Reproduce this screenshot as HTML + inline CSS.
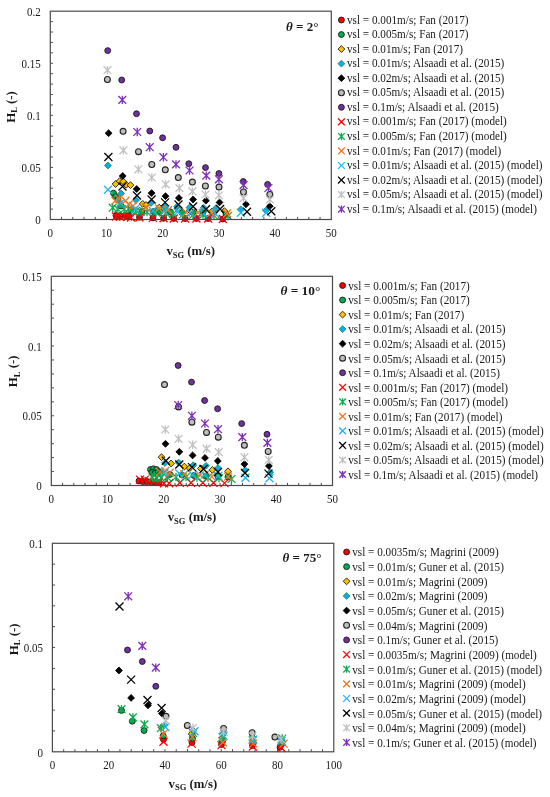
<!DOCTYPE html>
<html><head><meta charset="utf-8"><style>
html,body{margin:0;padding:0;background:#fff;}
body{width:550px;height:797px;overflow:hidden;}
svg{display:block;will-change:transform;}
text{font-family:"Liberation Serif", serif;fill:#1a1a1a;}
.t{font-size:11px;}
.lg{font-size:11.2px;}
.ti{font-size:13px;font-weight:bold;}
.at{font-size:12.8px;font-weight:bold;}
.sub{font-size:8.5px;}
</style></head><body>
<svg width="550" height="797" viewBox="0 0 550 797">
<rect width="550" height="797" fill="#fff"/>
<circle cx="116" cy="215.5" r="2.95" fill="#FF0000" stroke="#1a1a1a" stroke-width="0.9"/>
<circle cx="120.5" cy="215.8" r="2.95" fill="#FF0000" stroke="#1a1a1a" stroke-width="0.9"/>
<circle cx="125" cy="215.5" r="2.95" fill="#FF0000" stroke="#1a1a1a" stroke-width="0.9"/>
<circle cx="128.7" cy="216" r="2.95" fill="#FF0000" stroke="#1a1a1a" stroke-width="0.9"/>
<circle cx="139.5" cy="217.3" r="2.95" fill="#FF0000" stroke="#1a1a1a" stroke-width="0.9"/>
<circle cx="152.9" cy="217.9" r="2.95" fill="#FF0000" stroke="#1a1a1a" stroke-width="0.9"/>
<circle cx="163.6" cy="218.3" r="2.95" fill="#FF0000" stroke="#1a1a1a" stroke-width="0.9"/>
<circle cx="173.8" cy="218.5" r="2.95" fill="#FF0000" stroke="#1a1a1a" stroke-width="0.9"/>
<circle cx="185.1" cy="218.5" r="2.95" fill="#FF0000" stroke="#1a1a1a" stroke-width="0.9"/>
<circle cx="196.4" cy="218.5" r="2.95" fill="#FF0000" stroke="#1a1a1a" stroke-width="0.9"/>
<circle cx="208.1" cy="218.5" r="2.95" fill="#FF0000" stroke="#1a1a1a" stroke-width="0.9"/>
<circle cx="222.8" cy="219" r="2.95" fill="#FF0000" stroke="#1a1a1a" stroke-width="0.9"/>
<circle cx="113.5" cy="193.1" r="2.95" fill="#00B050" stroke="#1a1a1a" stroke-width="0.9"/>
<circle cx="115.6" cy="196.7" r="2.95" fill="#00B050" stroke="#1a1a1a" stroke-width="0.9"/>
<circle cx="118" cy="199.5" r="2.95" fill="#00B050" stroke="#1a1a1a" stroke-width="0.9"/>
<circle cx="121" cy="206" r="2.95" fill="#00B050" stroke="#1a1a1a" stroke-width="0.9"/>
<circle cx="131" cy="210" r="2.95" fill="#00B050" stroke="#1a1a1a" stroke-width="0.9"/>
<circle cx="141.8" cy="211.6" r="2.95" fill="#00B050" stroke="#1a1a1a" stroke-width="0.9"/>
<circle cx="153.6" cy="211.6" r="2.95" fill="#00B050" stroke="#1a1a1a" stroke-width="0.9"/>
<circle cx="160" cy="211.6" r="2.95" fill="#00B050" stroke="#1a1a1a" stroke-width="0.9"/>
<circle cx="170.2" cy="211.8" r="2.95" fill="#00B050" stroke="#1a1a1a" stroke-width="0.9"/>
<circle cx="181.8" cy="212.5" r="2.95" fill="#00B050" stroke="#1a1a1a" stroke-width="0.9"/>
<circle cx="193" cy="212.5" r="2.95" fill="#00B050" stroke="#1a1a1a" stroke-width="0.9"/>
<circle cx="203" cy="212" r="2.95" fill="#00B050" stroke="#1a1a1a" stroke-width="0.9"/>
<circle cx="213" cy="213" r="2.95" fill="#00B050" stroke="#1a1a1a" stroke-width="0.9"/>
<circle cx="226" cy="214" r="2.95" fill="#00B050" stroke="#1a1a1a" stroke-width="0.9"/>
<path d="M115.6 180.6L119 184L115.6 187.4L112.2 184Z" fill="#FFC000" stroke="#1a1a1a" stroke-width="0.9"/>
<path d="M119.6 177.7L123 181.1L119.6 184.5L116.2 181.1Z" fill="#FFC000" stroke="#1a1a1a" stroke-width="0.9"/>
<path d="M123.3 178.1L126.7 181.5L123.3 184.9L119.9 181.5Z" fill="#FFC000" stroke="#1a1a1a" stroke-width="0.9"/>
<path d="M126.2 181.3L129.6 184.7L126.2 188.1L122.8 184.7Z" fill="#FFC000" stroke="#1a1a1a" stroke-width="0.9"/>
<path d="M130.5 181.7L133.9 185.1L130.5 188.5L127.1 185.1Z" fill="#FFC000" stroke="#1a1a1a" stroke-width="0.9"/>
<path d="M142.7 200.5L146.1 203.9L142.7 207.3L139.3 203.9Z" fill="#FFC000" stroke="#1a1a1a" stroke-width="0.9"/>
<path d="M146 201.6L149.4 205L146 208.4L142.6 205Z" fill="#FFC000" stroke="#1a1a1a" stroke-width="0.9"/>
<path d="M159.2 204.3L162.6 207.7L159.2 211.1L155.8 207.7Z" fill="#FFC000" stroke="#1a1a1a" stroke-width="0.9"/>
<path d="M164.7 204.8L168.1 208.2L164.7 211.6L161.3 208.2Z" fill="#FFC000" stroke="#1a1a1a" stroke-width="0.9"/>
<path d="M178.2 205.9L181.6 209.3L178.2 212.7L174.8 209.3Z" fill="#FFC000" stroke="#1a1a1a" stroke-width="0.9"/>
<path d="M190 207.1L193.4 210.5L190 213.9L186.6 210.5Z" fill="#FFC000" stroke="#1a1a1a" stroke-width="0.9"/>
<path d="M212 208.1L215.4 211.5L212 214.9L208.6 211.5Z" fill="#FFC000" stroke="#1a1a1a" stroke-width="0.9"/>
<path d="M224.4 207.7L227.8 211.1L224.4 214.5L221 211.1Z" fill="#FFC000" stroke="#1a1a1a" stroke-width="0.9"/>
<path d="M107.9 162.1L111.3 165.5L107.9 168.9L104.5 165.5Z" fill="#00B0F0" stroke="#2a8a4a" stroke-width="0.9"/>
<path d="M121.1 190.1L124.5 193.5L121.1 196.9L117.7 193.5Z" fill="#00B0F0" stroke="#2a8a4a" stroke-width="0.9"/>
<path d="M136 196.7L139.4 200.1L136 203.5L132.6 200.1Z" fill="#00B0F0" stroke="#2a8a4a" stroke-width="0.9"/>
<path d="M151 199.6L154.4 203L151 206.4L147.6 203Z" fill="#00B0F0" stroke="#2a8a4a" stroke-width="0.9"/>
<path d="M164.7 203L168.1 206.4L164.7 209.8L161.3 206.4Z" fill="#00B0F0" stroke="#2a8a4a" stroke-width="0.9"/>
<path d="M177.1 203L180.5 206.4L177.1 209.8L173.7 206.4Z" fill="#00B0F0" stroke="#2a8a4a" stroke-width="0.9"/>
<path d="M189.5 204.1L192.9 207.5L189.5 210.9L186.1 207.5Z" fill="#00B0F0" stroke="#2a8a4a" stroke-width="0.9"/>
<path d="M203.7 204.4L207.1 207.8L203.7 211.2L200.3 207.8Z" fill="#00B0F0" stroke="#2a8a4a" stroke-width="0.9"/>
<path d="M215.7 205L219.1 208.4L215.7 211.8L212.3 208.4Z" fill="#00B0F0" stroke="#2a8a4a" stroke-width="0.9"/>
<path d="M240.8 206L244.2 209.4L240.8 212.8L237.4 209.4Z" fill="#00B0F0" stroke="#2a8a4a" stroke-width="0.9"/>
<path d="M266 207.1L269.4 210.5L266 213.9L262.6 210.5Z" fill="#00B0F0" stroke="#2a8a4a" stroke-width="0.9"/>
<path d="M108.6 129.8L112 133.2L108.6 136.6L105.2 133.2Z" fill="#000000" stroke="#000" stroke-width="0.9"/>
<path d="M122.7 172.6L126.1 176L122.7 179.4L119.3 176Z" fill="#000000" stroke="#000" stroke-width="0.9"/>
<path d="M136.7 185.6L140.1 189L136.7 192.4L133.3 189Z" fill="#000000" stroke="#000" stroke-width="0.9"/>
<path d="M151.6 189.7L155 193.1L151.6 196.5L148.2 193.1Z" fill="#000000" stroke="#000" stroke-width="0.9"/>
<path d="M165.5 192.8L168.9 196.2L165.5 199.6L162.1 196.2Z" fill="#000000" stroke="#000" stroke-width="0.9"/>
<path d="M178.9 194.6L182.3 198L178.9 201.4L175.5 198Z" fill="#000000" stroke="#000" stroke-width="0.9"/>
<path d="M193.1 196.1L196.5 199.5L193.1 202.9L189.7 199.5Z" fill="#000000" stroke="#000" stroke-width="0.9"/>
<path d="M205.9 197.3L209.3 200.7L205.9 204.1L202.5 200.7Z" fill="#000000" stroke="#000" stroke-width="0.9"/>
<path d="M219.5 199L222.9 202.4L219.5 205.8L216.1 202.4Z" fill="#000000" stroke="#000" stroke-width="0.9"/>
<path d="M246 200.9L249.4 204.3L246 207.7L242.6 204.3Z" fill="#000000" stroke="#000" stroke-width="0.9"/>
<path d="M269.8 202.8L273.2 206.2L269.8 209.6L266.4 206.2Z" fill="#000000" stroke="#000" stroke-width="0.9"/>
<circle cx="107.4" cy="79.5" r="2.95" fill="#BFBFBF" stroke="#222" stroke-width="1.1"/>
<circle cx="123.1" cy="131.3" r="2.95" fill="#BFBFBF" stroke="#222" stroke-width="1.1"/>
<circle cx="138.5" cy="151.7" r="2.95" fill="#BFBFBF" stroke="#222" stroke-width="1.1"/>
<circle cx="151.8" cy="164.5" r="2.95" fill="#BFBFBF" stroke="#222" stroke-width="1.1"/>
<circle cx="165.3" cy="169.8" r="2.95" fill="#BFBFBF" stroke="#222" stroke-width="1.1"/>
<circle cx="178.3" cy="177.6" r="2.95" fill="#BFBFBF" stroke="#222" stroke-width="1.1"/>
<circle cx="192.4" cy="182.1" r="2.95" fill="#BFBFBF" stroke="#222" stroke-width="1.1"/>
<circle cx="205.4" cy="186" r="2.95" fill="#BFBFBF" stroke="#222" stroke-width="1.1"/>
<circle cx="219" cy="187.1" r="2.95" fill="#BFBFBF" stroke="#222" stroke-width="1.1"/>
<circle cx="243.5" cy="192" r="2.95" fill="#BFBFBF" stroke="#222" stroke-width="1.1"/>
<circle cx="269.8" cy="194.5" r="2.95" fill="#BFBFBF" stroke="#222" stroke-width="1.1"/>
<circle cx="107.7" cy="50.6" r="2.95" fill="#7030A0" stroke="#1a1a1a" stroke-width="0.9"/>
<circle cx="121.7" cy="80" r="2.95" fill="#7030A0" stroke="#1a1a1a" stroke-width="0.9"/>
<circle cx="136.5" cy="113.7" r="2.95" fill="#7030A0" stroke="#1a1a1a" stroke-width="0.9"/>
<circle cx="149.8" cy="131" r="2.95" fill="#7030A0" stroke="#1a1a1a" stroke-width="0.9"/>
<circle cx="162.6" cy="137.8" r="2.95" fill="#7030A0" stroke="#1a1a1a" stroke-width="0.9"/>
<circle cx="176" cy="147.3" r="2.95" fill="#7030A0" stroke="#1a1a1a" stroke-width="0.9"/>
<circle cx="188.8" cy="163.7" r="2.95" fill="#7030A0" stroke="#1a1a1a" stroke-width="0.9"/>
<circle cx="205.5" cy="167.6" r="2.95" fill="#7030A0" stroke="#1a1a1a" stroke-width="0.9"/>
<circle cx="218.9" cy="173.5" r="2.95" fill="#7030A0" stroke="#1a1a1a" stroke-width="0.9"/>
<circle cx="243.3" cy="181.5" r="2.95" fill="#7030A0" stroke="#1a1a1a" stroke-width="0.9"/>
<circle cx="267.6" cy="184.4" r="2.95" fill="#7030A0" stroke="#1a1a1a" stroke-width="0.9"/>
<path d="M112 212.5L120 220.5M120 212.5L112 220.5" stroke="#FF0000" stroke-width="1.25" fill="none"/>
<path d="M116 212.8L124 220.8M124 212.8L116 220.8" stroke="#FF0000" stroke-width="1.25" fill="none"/>
<path d="M120.2 212L128.2 220M128.2 212L120.2 220" stroke="#FF0000" stroke-width="1.25" fill="none"/>
<path d="M124 212.5L132 220.5M132 212.5L124 220.5" stroke="#FF0000" stroke-width="1.25" fill="none"/>
<path d="M127 213.5L135 221.5M135 213.5L127 221.5" stroke="#FF0000" stroke-width="1.25" fill="none"/>
<path d="M135.5 213.5L143.5 221.5M143.5 213.5L135.5 221.5" stroke="#FF0000" stroke-width="1.25" fill="none"/>
<path d="M148.9 213.9L156.9 221.9M156.9 213.9L148.9 221.9" stroke="#FF0000" stroke-width="1.25" fill="none"/>
<path d="M159.6 214.3L167.6 222.3M167.6 214.3L159.6 222.3" stroke="#FF0000" stroke-width="1.25" fill="none"/>
<path d="M169.8 214.5L177.8 222.5M177.8 214.5L169.8 222.5" stroke="#FF0000" stroke-width="1.25" fill="none"/>
<path d="M181.1 214.5L189.1 222.5M189.1 214.5L181.1 222.5" stroke="#FF0000" stroke-width="1.25" fill="none"/>
<path d="M192.4 214.5L200.4 222.5M200.4 214.5L192.4 222.5" stroke="#FF0000" stroke-width="1.25" fill="none"/>
<path d="M204.1 214.5L212.1 222.5M212.1 214.5L204.1 222.5" stroke="#FF0000" stroke-width="1.25" fill="none"/>
<path d="M218.8 215L226.8 223M226.8 215L218.8 223" stroke="#FF0000" stroke-width="1.25" fill="none"/>
<path d="M108.8 203.8L116.6 211.6M116.6 203.8L108.8 211.6M112.7 203.5L112.7 211.9" stroke="#0BAA4C" stroke-width="1.3" fill="none"/>
<path d="M113.9 205.1L121.7 212.9M121.7 205.1L113.9 212.9M117.8 204.8L117.8 213.2" stroke="#0BAA4C" stroke-width="1.3" fill="none"/>
<path d="M120.3 205.1L128.1 212.9M128.1 205.1L120.3 212.9M124.2 204.8L124.2 213.2" stroke="#0BAA4C" stroke-width="1.3" fill="none"/>
<path d="M124.7 205.1L132.5 212.9M132.5 205.1L124.7 212.9M128.6 204.8L128.6 213.2" stroke="#0BAA4C" stroke-width="1.3" fill="none"/>
<path d="M132.1 207.1L139.9 214.9M139.9 207.1L132.1 214.9M136 206.8L136 215.2" stroke="#0BAA4C" stroke-width="1.3" fill="none"/>
<path d="M137.1 207.6L144.9 215.4M144.9 207.6L137.1 215.4M141 207.3L141 215.7" stroke="#0BAA4C" stroke-width="1.3" fill="none"/>
<path d="M143.1 208.1L150.9 215.9M150.9 208.1L143.1 215.9M147 207.8L147 216.2" stroke="#0BAA4C" stroke-width="1.3" fill="none"/>
<path d="M152.1 208.6L159.9 216.4M159.9 208.6L152.1 216.4M156 208.3L156 216.7" stroke="#0BAA4C" stroke-width="1.3" fill="none"/>
<path d="M162.1 209.1L169.9 216.9M169.9 209.1L162.1 216.9M166 208.8L166 217.2" stroke="#0BAA4C" stroke-width="1.3" fill="none"/>
<path d="M169.1 210.1L176.9 217.9M176.9 210.1L169.1 217.9M173 209.8L173 218.2" stroke="#0BAA4C" stroke-width="1.3" fill="none"/>
<path d="M179.1 210.6L186.9 218.4M186.9 210.6L179.1 218.4M183 210.3L183 218.7" stroke="#0BAA4C" stroke-width="1.3" fill="none"/>
<path d="M189.1 211.1L196.9 218.9M196.9 211.1L189.1 218.9M193 210.8L193 219.2" stroke="#0BAA4C" stroke-width="1.3" fill="none"/>
<path d="M199.1 211.1L206.9 218.9M206.9 211.1L199.1 218.9M203 210.8L203 219.2" stroke="#0BAA4C" stroke-width="1.3" fill="none"/>
<path d="M210.1 211.6L217.9 219.4M217.9 211.6L210.1 219.4M214 211.3L214 219.7" stroke="#0BAA4C" stroke-width="1.3" fill="none"/>
<path d="M224.1 212.1L231.9 219.9M231.9 212.1L224.1 219.9M228 211.8L228 220.2" stroke="#0BAA4C" stroke-width="1.3" fill="none"/>
<path d="M111.3 196.7L119.3 204.7M119.3 196.7L111.3 204.7" stroke="#F7731F" stroke-width="1.25" fill="none"/>
<path d="M115.1 194.8L123.1 202.8M123.1 194.8L115.1 202.8" stroke="#F7731F" stroke-width="1.25" fill="none"/>
<path d="M121.5 196.7L129.5 204.7M129.5 196.7L121.5 204.7" stroke="#F7731F" stroke-width="1.25" fill="none"/>
<path d="M124.6 200.5L132.6 208.5M132.6 200.5L124.6 208.5" stroke="#F7731F" stroke-width="1.25" fill="none"/>
<path d="M129 202L137 210M137 202L129 210" stroke="#F7731F" stroke-width="1.25" fill="none"/>
<path d="M142 203.5L150 211.5M150 203.5L142 211.5" stroke="#F7731F" stroke-width="1.25" fill="none"/>
<path d="M155 204.5L163 212.5M163 204.5L155 212.5" stroke="#F7731F" stroke-width="1.25" fill="none"/>
<path d="M164 206L172 214M172 206L164 214" stroke="#F7731F" stroke-width="1.25" fill="none"/>
<path d="M182.2 208.5L190.2 216.5M190.2 208.5L182.2 216.5" stroke="#F7731F" stroke-width="1.25" fill="none"/>
<path d="M194 208.5L202 216.5M202 208.5L194 216.5" stroke="#F7731F" stroke-width="1.25" fill="none"/>
<path d="M207 209L215 217M215 209L207 217" stroke="#F7731F" stroke-width="1.25" fill="none"/>
<path d="M223 209.5L231 217.5M231 209.5L223 217.5" stroke="#F7731F" stroke-width="1.25" fill="none"/>
<path d="M104 185.8L112 193.8M112 185.8L104 193.8" stroke="#1FB4F0" stroke-width="1.25" fill="none"/>
<path d="M116.4 199.3L124.4 207.3M124.4 199.3L116.4 207.3" stroke="#1FB4F0" stroke-width="1.25" fill="none"/>
<path d="M131.1 205L139.1 213M139.1 205L131.1 213" stroke="#1FB4F0" stroke-width="1.25" fill="none"/>
<path d="M148.9 206.9L156.9 214.9M156.9 206.9L148.9 214.9" stroke="#1FB4F0" stroke-width="1.25" fill="none"/>
<path d="M160.4 207.1L168.4 215.1M168.4 207.1L160.4 215.1" stroke="#1FB4F0" stroke-width="1.25" fill="none"/>
<path d="M173.8 207.8L181.8 215.8M181.8 207.8L173.8 215.8" stroke="#1FB4F0" stroke-width="1.25" fill="none"/>
<path d="M186.5 208.9L194.5 216.9M194.5 208.9L186.5 216.9" stroke="#1FB4F0" stroke-width="1.25" fill="none"/>
<path d="M199 209L207 217M207 209L199 217" stroke="#1FB4F0" stroke-width="1.25" fill="none"/>
<path d="M211 209.5L219 217.5M219 209.5L211 217.5" stroke="#1FB4F0" stroke-width="1.25" fill="none"/>
<path d="M236.8 208.7L244.8 216.7M244.8 208.7L236.8 216.7" stroke="#1FB4F0" stroke-width="1.25" fill="none"/>
<path d="M262.2 208.7L270.2 216.7M270.2 208.7L262.2 216.7" stroke="#1FB4F0" stroke-width="1.25" fill="none"/>
<path d="M104.4 153L112.4 161M112.4 153L104.4 161" stroke="#000000" stroke-width="1.25" fill="none"/>
<path d="M118.5 182.5L126.5 190.5M126.5 182.5L118.5 190.5" stroke="#000000" stroke-width="1.25" fill="none"/>
<path d="M133 191.5L141 199.5M141 191.5L133 199.5" stroke="#000000" stroke-width="1.25" fill="none"/>
<path d="M147.6 195.5L155.6 203.5M155.6 195.5L147.6 203.5" stroke="#000000" stroke-width="1.25" fill="none"/>
<path d="M161.1 198.4L169.1 206.4M169.1 198.4L161.1 206.4" stroke="#000000" stroke-width="1.25" fill="none"/>
<path d="M174.5 200.5L182.5 208.5M182.5 200.5L174.5 208.5" stroke="#000000" stroke-width="1.25" fill="none"/>
<path d="M189.1 202.5L197.1 210.5M197.1 202.5L189.1 210.5" stroke="#000000" stroke-width="1.25" fill="none"/>
<path d="M202 205.2L210 213.2M210 205.2L202 213.2" stroke="#000000" stroke-width="1.25" fill="none"/>
<path d="M216.1 205L224.1 213M224.1 205L216.1 213" stroke="#000000" stroke-width="1.25" fill="none"/>
<path d="M243 207.8L251 215.8M251 207.8L243 215.8" stroke="#000000" stroke-width="1.25" fill="none"/>
<path d="M267.3 207.3L275.3 215.3M275.3 207.3L267.3 215.3" stroke="#000000" stroke-width="1.25" fill="none"/>
<path d="M103.6 66.3L111.4 74.1M111.4 66.3L103.6 74.1M107.5 66L107.5 74.4" stroke="#C0C0C0" stroke-width="1.3" fill="none"/>
<path d="M119.5 146.5L127.3 154.3M127.3 146.5L119.5 154.3M123.4 146.2L123.4 154.6" stroke="#C0C0C0" stroke-width="1.3" fill="none"/>
<path d="M134.5 165.4L142.3 173.2M142.3 165.4L134.5 173.2M138.4 165.1L138.4 173.5" stroke="#C0C0C0" stroke-width="1.3" fill="none"/>
<path d="M147.9 173.6L155.7 181.4M155.7 173.6L147.9 181.4M151.8 173.3L151.8 181.7" stroke="#C0C0C0" stroke-width="1.3" fill="none"/>
<path d="M161.8 180.4L169.6 188.2M169.6 180.4L161.8 188.2M165.7 180.1L165.7 188.5" stroke="#C0C0C0" stroke-width="1.3" fill="none"/>
<path d="M175.5 184.2L183.3 192M183.3 184.2L175.5 192M179.4 183.9L179.4 192.3" stroke="#C0C0C0" stroke-width="1.3" fill="none"/>
<path d="M188.5 187.5L196.3 195.3M196.3 187.5L188.5 195.3M192.4 187.2L192.4 195.6" stroke="#C0C0C0" stroke-width="1.3" fill="none"/>
<path d="M201.6 190.6L209.4 198.4M209.4 190.6L201.6 198.4M205.5 190.3L205.5 198.7" stroke="#C0C0C0" stroke-width="1.3" fill="none"/>
<path d="M215 191.4L222.8 199.2M222.8 191.4L215 199.2M218.9 191.1L218.9 199.5" stroke="#C0C0C0" stroke-width="1.3" fill="none"/>
<path d="M239.7 194.3L247.5 202.1M247.5 194.3L239.7 202.1M243.6 194L243.6 202.4" stroke="#C0C0C0" stroke-width="1.3" fill="none"/>
<path d="M265.9 195.7L273.7 203.5M273.7 195.7L265.9 203.5M269.8 195.4L269.8 203.8" stroke="#C0C0C0" stroke-width="1.3" fill="none"/>
<path d="M118.4 96L126.2 103.8M126.2 96L118.4 103.8M122.3 95.7L122.3 104.1" stroke="#7E2FB8" stroke-width="1.3" fill="none"/>
<path d="M133.3 128.1L141.1 135.9M141.1 128.1L133.3 135.9M137.2 127.8L137.2 136.2" stroke="#7E2FB8" stroke-width="1.3" fill="none"/>
<path d="M145.8 143.3L153.6 151.1M153.6 143.3L145.8 151.1M149.7 143L149.7 151.4" stroke="#7E2FB8" stroke-width="1.3" fill="none"/>
<path d="M159.5 153.3L167.3 161.1M167.3 153.3L159.5 161.1M163.4 153L163.4 161.4" stroke="#7E2FB8" stroke-width="1.3" fill="none"/>
<path d="M172.1 160.5L179.9 168.3M179.9 160.5L172.1 168.3M176 160.2L176 168.6" stroke="#7E2FB8" stroke-width="1.3" fill="none"/>
<path d="M185.6 166.6L193.4 174.4M193.4 166.6L185.6 174.4M189.5 166.3L189.5 174.7" stroke="#7E2FB8" stroke-width="1.3" fill="none"/>
<path d="M202.4 171.7L210.2 179.5M210.2 171.7L202.4 179.5M206.3 171.4L206.3 179.8" stroke="#7E2FB8" stroke-width="1.3" fill="none"/>
<path d="M215 175.4L222.8 183.2M222.8 175.4L215 183.2M218.9 175.1L218.9 183.5" stroke="#7E2FB8" stroke-width="1.3" fill="none"/>
<path d="M239.7 181.2L247.5 189M247.5 181.2L239.7 189M243.6 180.9L243.6 189.3" stroke="#7E2FB8" stroke-width="1.3" fill="none"/>
<path d="M264.5 184.1L272.3 191.9M272.3 184.1L264.5 191.9M268.4 183.8L268.4 192.2" stroke="#7E2FB8" stroke-width="1.3" fill="none"/>
<path d="M61.54 219.5V216.9" stroke="#4a4a4a" stroke-width="1"/>
<path d="M72.78 219.5V216.9" stroke="#4a4a4a" stroke-width="1"/>
<path d="M84.02 219.5V216.9" stroke="#4a4a4a" stroke-width="1"/>
<path d="M95.26 219.5V216.9" stroke="#4a4a4a" stroke-width="1"/>
<path d="M106.5 219.5V216.9" stroke="#4a4a4a" stroke-width="1"/>
<path d="M117.74 219.5V216.9" stroke="#4a4a4a" stroke-width="1"/>
<path d="M128.98 219.5V216.9" stroke="#4a4a4a" stroke-width="1"/>
<path d="M140.22 219.5V216.9" stroke="#4a4a4a" stroke-width="1"/>
<path d="M151.46 219.5V216.9" stroke="#4a4a4a" stroke-width="1"/>
<path d="M162.7 219.5V216.9" stroke="#4a4a4a" stroke-width="1"/>
<path d="M173.94 219.5V216.9" stroke="#4a4a4a" stroke-width="1"/>
<path d="M185.18 219.5V216.9" stroke="#4a4a4a" stroke-width="1"/>
<path d="M196.42 219.5V216.9" stroke="#4a4a4a" stroke-width="1"/>
<path d="M207.66 219.5V216.9" stroke="#4a4a4a" stroke-width="1"/>
<path d="M218.9 219.5V216.9" stroke="#4a4a4a" stroke-width="1"/>
<path d="M230.14 219.5V216.9" stroke="#4a4a4a" stroke-width="1"/>
<path d="M241.38 219.5V216.9" stroke="#4a4a4a" stroke-width="1"/>
<path d="M252.62 219.5V216.9" stroke="#4a4a4a" stroke-width="1"/>
<path d="M263.86 219.5V216.9" stroke="#4a4a4a" stroke-width="1"/>
<path d="M275.1 219.5V216.9" stroke="#4a4a4a" stroke-width="1"/>
<path d="M286.34 219.5V216.9" stroke="#4a4a4a" stroke-width="1"/>
<path d="M297.58 219.5V216.9" stroke="#4a4a4a" stroke-width="1"/>
<path d="M308.82 219.5V216.9" stroke="#4a4a4a" stroke-width="1"/>
<path d="M320.06 219.5V216.9" stroke="#4a4a4a" stroke-width="1"/>
<path d="M50.3 209.09H52.9" stroke="#4a4a4a" stroke-width="1"/>
<path d="M50.3 198.67H52.9" stroke="#4a4a4a" stroke-width="1"/>
<path d="M50.3 188.25H52.9" stroke="#4a4a4a" stroke-width="1"/>
<path d="M50.3 177.84H52.9" stroke="#4a4a4a" stroke-width="1"/>
<path d="M50.3 167.43H52.9" stroke="#4a4a4a" stroke-width="1"/>
<path d="M50.3 157.01H52.9" stroke="#4a4a4a" stroke-width="1"/>
<path d="M50.3 146.59H52.9" stroke="#4a4a4a" stroke-width="1"/>
<path d="M50.3 136.18H52.9" stroke="#4a4a4a" stroke-width="1"/>
<path d="M50.3 125.77H52.9" stroke="#4a4a4a" stroke-width="1"/>
<path d="M50.3 115.35H52.9" stroke="#4a4a4a" stroke-width="1"/>
<path d="M50.3 104.93H52.9" stroke="#4a4a4a" stroke-width="1"/>
<path d="M50.3 94.52H52.9" stroke="#4a4a4a" stroke-width="1"/>
<path d="M50.3 84.1H52.9" stroke="#4a4a4a" stroke-width="1"/>
<path d="M50.3 73.69H52.9" stroke="#4a4a4a" stroke-width="1"/>
<path d="M50.3 63.28H52.9" stroke="#4a4a4a" stroke-width="1"/>
<path d="M50.3 52.86H52.9" stroke="#4a4a4a" stroke-width="1"/>
<path d="M50.3 42.44H52.9" stroke="#4a4a4a" stroke-width="1"/>
<path d="M50.3 32.03H52.9" stroke="#4a4a4a" stroke-width="1"/>
<path d="M50.3 21.61H52.9" stroke="#4a4a4a" stroke-width="1"/>
<rect x="50.3" y="11.2" width="281" height="208.3" fill="none" stroke="#4a4a4a" stroke-width="1.2"/>
<text transform="translate(40.8 224.2) scale(1 1.06)" text-anchor="end" class="t">0</text>
<text transform="translate(40.8 172.12) scale(1 1.06)" text-anchor="end" class="t">0.05</text>
<text transform="translate(40.8 120.05) scale(1 1.06)" text-anchor="end" class="t">0.1</text>
<text transform="translate(40.8 67.98) scale(1 1.06)" text-anchor="end" class="t">0.15</text>
<text transform="translate(40.8 15.9) scale(1 1.06)" text-anchor="end" class="t">0.2</text>
<text transform="translate(50.3 236.9) scale(1 1.06)" text-anchor="middle" class="t">0</text>
<text transform="translate(106.5 236.9) scale(1 1.06)" text-anchor="middle" class="t">10</text>
<text transform="translate(162.7 236.9) scale(1 1.06)" text-anchor="middle" class="t">20</text>
<text transform="translate(218.9 236.9) scale(1 1.06)" text-anchor="middle" class="t">30</text>
<text transform="translate(275.1 236.9) scale(1 1.06)" text-anchor="middle" class="t">40</text>
<text transform="translate(331.3 236.9) scale(1 1.06)" text-anchor="middle" class="t">50</text>
<text x="286.1" y="30.5" class="ti"><tspan font-style="italic">&#952;</tspan> = 2&#176;</text>
<text transform="translate(14.9 107) rotate(-90)" text-anchor="middle" class="at">H<tspan class="sub" dy="2.5">L</tspan><tspan dy="-2.5"> (-)</tspan></text>
<text x="166.4" y="255.2" class="at">v<tspan class="sub" dy="2.5">SG</tspan><tspan dy="-2.5"> (m/s)</tspan></text>
<circle cx="341.4" cy="20" r="2.95" fill="#FF0000" stroke="#1a1a1a" stroke-width="0.9"/>
<text transform="translate(347 23.6) scale(1 1.12)" class="lg">vsl = 0.001m/s; Fan (2017)</text>
<circle cx="341.4" cy="34.55" r="2.95" fill="#00B050" stroke="#1a1a1a" stroke-width="0.9"/>
<text transform="translate(347 38.15) scale(1 1.12)" class="lg">vsl = 0.005m/s; Fan (2017)</text>
<path d="M341.4 45.7L344.8 49.1L341.4 52.5L338 49.1Z" fill="#FFC000" stroke="#1a1a1a" stroke-width="0.9"/>
<text transform="translate(347 52.7) scale(1 1.12)" class="lg">vsl = 0.01m/s; Fan (2017)</text>
<path d="M341.4 60.25L344.8 63.65L341.4 67.05L338 63.65Z" fill="#00B0F0" stroke="#2a8a4a" stroke-width="0.9"/>
<text transform="translate(347 67.25) scale(1 1.12)" class="lg">vsl = 0.01m/s; Alsaadi et al. (2015)</text>
<path d="M341.4 74.8L344.8 78.2L341.4 81.6L338 78.2Z" fill="#000000" stroke="#000" stroke-width="0.9"/>
<text transform="translate(347 81.8) scale(1 1.12)" class="lg">vsl = 0.02m/s; Alsaadi et al. (2015)</text>
<circle cx="341.4" cy="92.75" r="2.95" fill="#BFBFBF" stroke="#222" stroke-width="1.1"/>
<text transform="translate(347 96.35) scale(1 1.12)" class="lg">vsl = 0.05m/s; Alsaadi et al. (2015)</text>
<circle cx="341.4" cy="107.3" r="2.95" fill="#7030A0" stroke="#1a1a1a" stroke-width="0.9"/>
<text transform="translate(347 110.9) scale(1 1.12)" class="lg">vsl = 0.1m/s; Alsaadi et al. (2015)</text>
<path d="M338 118.45L344.8 125.25M344.8 118.45L338 125.25" stroke="#FF0000" stroke-width="1.3" fill="none"/>
<text transform="translate(347 125.45) scale(1 1.12)" class="lg">vsl = 0.001m/s; Fan (2017) (model)</text>
<path d="M338.1 133.1L344.7 139.7M344.7 133.1L338.1 139.7M341.4 132.8L341.4 140" stroke="#0BAA4C" stroke-width="1.3" fill="none"/>
<text transform="translate(347 140) scale(1 1.12)" class="lg">vsl = 0.005m/s; Fan (2017) (model)</text>
<path d="M338 147.55L344.8 154.35M344.8 147.55L338 154.35" stroke="#F7731F" stroke-width="1.3" fill="none"/>
<text transform="translate(347 154.55) scale(1 1.12)" class="lg">vsl = 0.01m/s; Fan (2017) (model)</text>
<path d="M338 162.1L344.8 168.9M344.8 162.1L338 168.9" stroke="#1FB4F0" stroke-width="1.3" fill="none"/>
<text transform="translate(347 169.1) scale(1 1.12)" class="lg">vsl = 0.01m/s; Alsaadi et al. (2015) (model)</text>
<path d="M338 176.65L344.8 183.45M344.8 176.65L338 183.45" stroke="#000" stroke-width="1.3" fill="none"/>
<text transform="translate(347 183.65) scale(1 1.12)" class="lg">vsl = 0.02m/s; Alsaadi et al. (2015) (model)</text>
<path d="M338.1 191.3L344.7 197.9M344.7 191.3L338.1 197.9M341.4 191L341.4 198.2" stroke="#C0C0C0" stroke-width="1.3" fill="none"/>
<text transform="translate(347 198.2) scale(1 1.12)" class="lg">vsl = 0.05m/s; Alsaadi et al. (2015) (model)</text>
<path d="M338.1 205.85L344.7 212.45M344.7 205.85L338.1 212.45M341.4 205.55L341.4 212.75" stroke="#7E2FB8" stroke-width="1.3" fill="none"/>
<text transform="translate(347 212.75) scale(1 1.12)" class="lg">vsl = 0.1m/s; Alsaadi et al. (2015) (model)</text>
<circle cx="139" cy="481" r="2.95" fill="#FF0000" stroke="#1a1a1a" stroke-width="0.9"/>
<circle cx="143" cy="481.5" r="2.95" fill="#FF0000" stroke="#1a1a1a" stroke-width="0.9"/>
<circle cx="147" cy="481.5" r="2.95" fill="#FF0000" stroke="#1a1a1a" stroke-width="0.9"/>
<circle cx="151" cy="482" r="2.95" fill="#FF0000" stroke="#1a1a1a" stroke-width="0.9"/>
<circle cx="155" cy="482" r="2.95" fill="#FF0000" stroke="#1a1a1a" stroke-width="0.9"/>
<circle cx="159" cy="482.5" r="2.95" fill="#FF0000" stroke="#1a1a1a" stroke-width="0.9"/>
<circle cx="150.5" cy="469.5" r="2.95" fill="#00B050" stroke="#1a1a1a" stroke-width="0.9"/>
<circle cx="153.5" cy="468.8" r="2.95" fill="#00B050" stroke="#1a1a1a" stroke-width="0.9"/>
<circle cx="156.5" cy="469.5" r="2.95" fill="#00B050" stroke="#1a1a1a" stroke-width="0.9"/>
<circle cx="152" cy="472.5" r="2.95" fill="#00B050" stroke="#1a1a1a" stroke-width="0.9"/>
<circle cx="155.2" cy="473" r="2.95" fill="#00B050" stroke="#1a1a1a" stroke-width="0.9"/>
<circle cx="158.3" cy="471.6" r="2.95" fill="#00B050" stroke="#1a1a1a" stroke-width="0.9"/>
<circle cx="161" cy="473" r="2.95" fill="#00B050" stroke="#1a1a1a" stroke-width="0.9"/>
<circle cx="170" cy="474.5" r="2.95" fill="#00B050" stroke="#1a1a1a" stroke-width="0.9"/>
<circle cx="182" cy="475" r="2.95" fill="#00B050" stroke="#1a1a1a" stroke-width="0.9"/>
<circle cx="194" cy="475.5" r="2.95" fill="#00B050" stroke="#1a1a1a" stroke-width="0.9"/>
<circle cx="206" cy="476" r="2.95" fill="#00B050" stroke="#1a1a1a" stroke-width="0.9"/>
<circle cx="218" cy="476.5" r="2.95" fill="#00B050" stroke="#1a1a1a" stroke-width="0.9"/>
<circle cx="228" cy="477" r="2.95" fill="#00B050" stroke="#1a1a1a" stroke-width="0.9"/>
<path d="M161.5 453.8L164.9 457.2L161.5 460.6L158.1 457.2Z" fill="#FFC000" stroke="#1a1a1a" stroke-width="0.9"/>
<path d="M171 460.1L174.4 463.5L171 466.9L167.6 463.5Z" fill="#FFC000" stroke="#1a1a1a" stroke-width="0.9"/>
<path d="M184.4 463.1L187.8 466.5L184.4 469.9L181 466.5Z" fill="#FFC000" stroke="#1a1a1a" stroke-width="0.9"/>
<path d="M189.5 465L192.9 468.4L189.5 471.8L186.1 468.4Z" fill="#FFC000" stroke="#1a1a1a" stroke-width="0.9"/>
<path d="M200.9 465L204.3 468.4L200.9 471.8L197.5 468.4Z" fill="#FFC000" stroke="#1a1a1a" stroke-width="0.9"/>
<path d="M212.4 466.5L215.8 469.9L212.4 473.3L209 469.9Z" fill="#FFC000" stroke="#1a1a1a" stroke-width="0.9"/>
<path d="M228 467.9L231.4 471.3L228 474.7L224.6 471.3Z" fill="#FFC000" stroke="#1a1a1a" stroke-width="0.9"/>
<path d="M165 459.6L168.4 463L165 466.4L161.6 463Z" fill="#00B0F0" stroke="#2a8a4a" stroke-width="0.9"/>
<path d="M178.6 459.1L182 462.5L178.6 465.9L175.2 462.5Z" fill="#00B0F0" stroke="#2a8a4a" stroke-width="0.9"/>
<path d="M193.3 461.8L196.7 465.2L193.3 468.6L189.9 465.2Z" fill="#00B0F0" stroke="#2a8a4a" stroke-width="0.9"/>
<path d="M206 462.4L209.4 465.8L206 469.2L202.6 465.8Z" fill="#00B0F0" stroke="#2a8a4a" stroke-width="0.9"/>
<path d="M218 464.6L221.4 468L218 471.4L214.6 468Z" fill="#00B0F0" stroke="#2a8a4a" stroke-width="0.9"/>
<path d="M245.1 466.7L248.5 470.1L245.1 473.5L241.7 470.1Z" fill="#00B0F0" stroke="#2a8a4a" stroke-width="0.9"/>
<path d="M270.2 468.8L273.6 472.2L270.2 475.6L266.8 472.2Z" fill="#00B0F0" stroke="#2a8a4a" stroke-width="0.9"/>
<path d="M165.5 440.4L168.9 443.8L165.5 447.2L162.1 443.8Z" fill="#000000" stroke="#000" stroke-width="0.9"/>
<path d="M179.3 448.4L182.7 451.8L179.3 455.2L175.9 451.8Z" fill="#000000" stroke="#000" stroke-width="0.9"/>
<path d="M192.6 452L196 455.4L192.6 458.8L189.2 455.4Z" fill="#000000" stroke="#000" stroke-width="0.9"/>
<path d="M205 454.5L208.4 457.9L205 461.3L201.6 457.9Z" fill="#000000" stroke="#000" stroke-width="0.9"/>
<path d="M217.8 457.6L221.2 461L217.8 464.4L214.4 461Z" fill="#000000" stroke="#000" stroke-width="0.9"/>
<path d="M244.4 460.7L247.8 464.1L244.4 467.5L241 464.1Z" fill="#000000" stroke="#000" stroke-width="0.9"/>
<path d="M268.9 462.6L272.3 466L268.9 469.4L265.5 466Z" fill="#000000" stroke="#000" stroke-width="0.9"/>
<circle cx="164.5" cy="384.6" r="2.95" fill="#BFBFBF" stroke="#222" stroke-width="1.1"/>
<circle cx="178.5" cy="406.9" r="2.95" fill="#BFBFBF" stroke="#222" stroke-width="1.1"/>
<circle cx="191.9" cy="422.2" r="2.95" fill="#BFBFBF" stroke="#222" stroke-width="1.1"/>
<circle cx="206.5" cy="432.4" r="2.95" fill="#BFBFBF" stroke="#222" stroke-width="1.1"/>
<circle cx="218.3" cy="437.2" r="2.95" fill="#BFBFBF" stroke="#222" stroke-width="1.1"/>
<circle cx="244.4" cy="445.3" r="2.95" fill="#BFBFBF" stroke="#222" stroke-width="1.1"/>
<circle cx="268.2" cy="451.5" r="2.95" fill="#BFBFBF" stroke="#222" stroke-width="1.1"/>
<circle cx="178.1" cy="365.5" r="2.95" fill="#7030A0" stroke="#1a1a1a" stroke-width="0.9"/>
<circle cx="191.5" cy="382.1" r="2.95" fill="#7030A0" stroke="#1a1a1a" stroke-width="0.9"/>
<circle cx="204.6" cy="400.5" r="2.95" fill="#7030A0" stroke="#1a1a1a" stroke-width="0.9"/>
<circle cx="217.6" cy="408.8" r="2.95" fill="#7030A0" stroke="#1a1a1a" stroke-width="0.9"/>
<circle cx="241.7" cy="423.6" r="2.95" fill="#7030A0" stroke="#1a1a1a" stroke-width="0.9"/>
<circle cx="267" cy="434.3" r="2.95" fill="#7030A0" stroke="#1a1a1a" stroke-width="0.9"/>
<path d="M136 475.6L144 483.6M144 475.6L136 483.6" stroke="#FF0000" stroke-width="1.25" fill="none"/>
<path d="M140.7 475.6L148.7 483.6M148.7 475.6L140.7 483.6" stroke="#FF0000" stroke-width="1.25" fill="none"/>
<path d="M144.7 477.1L152.7 485.1M152.7 477.1L144.7 485.1" stroke="#FF0000" stroke-width="1.25" fill="none"/>
<path d="M149.8 477.8L157.8 485.8M157.8 477.8L149.8 485.8" stroke="#FF0000" stroke-width="1.25" fill="none"/>
<path d="M154.9 477.8L162.9 485.8M162.9 477.8L154.9 485.8" stroke="#FF0000" stroke-width="1.25" fill="none"/>
<path d="M160 479.3L168 487.3M168 479.3L160 487.3" stroke="#FF0000" stroke-width="1.25" fill="none"/>
<path d="M165.1 479.3L173.1 487.3M173.1 479.3L165.1 487.3" stroke="#FF0000" stroke-width="1.25" fill="none"/>
<path d="M175.8 478.8L183.8 486.8M183.8 478.8L175.8 486.8" stroke="#FF0000" stroke-width="1.25" fill="none"/>
<path d="M187 478.8L195 486.8M195 478.8L187 486.8" stroke="#FF0000" stroke-width="1.25" fill="none"/>
<path d="M198.8 478.8L206.8 486.8M206.8 478.8L198.8 486.8" stroke="#FF0000" stroke-width="1.25" fill="none"/>
<path d="M209.5 478.8L217.5 486.8M217.5 478.8L209.5 486.8" stroke="#FF0000" stroke-width="1.25" fill="none"/>
<path d="M220.5 479.1L228.5 487.1M228.5 479.1L220.5 487.1" stroke="#FF0000" stroke-width="1.25" fill="none"/>
<path d="M148.5 473.6L156.3 481.4M156.3 473.6L148.5 481.4M152.4 473.3L152.4 481.7" stroke="#0BAA4C" stroke-width="1.3" fill="none"/>
<path d="M152.8 474.3L160.6 482.1M160.6 474.3L152.8 482.1M156.7 474L156.7 482.4" stroke="#0BAA4C" stroke-width="1.3" fill="none"/>
<path d="M157.1 474.1L164.9 481.9M164.9 474.1L157.1 481.9M161 473.8L161 482.2" stroke="#0BAA4C" stroke-width="1.3" fill="none"/>
<path d="M163.1 473.1L170.9 480.9M170.9 473.1L163.1 480.9M167 472.8L167 481.2" stroke="#0BAA4C" stroke-width="1.3" fill="none"/>
<path d="M172.1 473.1L179.9 480.9M179.9 473.1L172.1 480.9M176 472.8L176 481.2" stroke="#0BAA4C" stroke-width="1.3" fill="none"/>
<path d="M182.1 473.1L189.9 480.9M189.9 473.1L182.1 480.9M186 472.8L186 481.2" stroke="#0BAA4C" stroke-width="1.3" fill="none"/>
<path d="M193.1 473.6L200.9 481.4M200.9 473.6L193.1 481.4M197 473.3L197 481.7" stroke="#0BAA4C" stroke-width="1.3" fill="none"/>
<path d="M204.1 473.6L211.9 481.4M211.9 473.6L204.1 481.4M208 473.3L208 481.7" stroke="#0BAA4C" stroke-width="1.3" fill="none"/>
<path d="M215.1 474.1L222.9 481.9M222.9 474.1L215.1 481.9M219 473.8L219 482.2" stroke="#0BAA4C" stroke-width="1.3" fill="none"/>
<path d="M227.6 475.1L235.4 482.9M235.4 475.1L227.6 482.9M231.5 474.8L231.5 483.2" stroke="#0BAA4C" stroke-width="1.3" fill="none"/>
<path d="M156 468L164 476M164 468L156 476" stroke="#F7731F" stroke-width="1.25" fill="none"/>
<path d="M161.3 466.9L169.3 474.9M169.3 466.9L161.3 474.9" stroke="#F7731F" stroke-width="1.25" fill="none"/>
<path d="M165.7 468.7L173.7 476.7M173.7 468.7L165.7 476.7" stroke="#F7731F" stroke-width="1.25" fill="none"/>
<path d="M180.4 470.1L188.4 478.1M188.4 470.1L180.4 478.1" stroke="#F7731F" stroke-width="1.25" fill="none"/>
<path d="M196.3 471.4L204.3 479.4M204.3 471.4L196.3 479.4" stroke="#F7731F" stroke-width="1.25" fill="none"/>
<path d="M207.7 472.6L215.7 480.6M215.7 472.6L207.7 480.6" stroke="#F7731F" stroke-width="1.25" fill="none"/>
<path d="M224 472.6L232 480.6M232 472.6L224 480.6" stroke="#F7731F" stroke-width="1.25" fill="none"/>
<path d="M160.6 468.2L168.6 476.2M168.6 468.2L160.6 476.2" stroke="#1FB4F0" stroke-width="1.25" fill="none"/>
<path d="M175.3 469.5L183.3 477.5M183.3 469.5L175.3 477.5" stroke="#1FB4F0" stroke-width="1.25" fill="none"/>
<path d="M188.6 470.7L196.6 478.7M196.6 470.7L188.6 478.7" stroke="#1FB4F0" stroke-width="1.25" fill="none"/>
<path d="M200.7 470.7L208.7 478.7M208.7 470.7L200.7 478.7" stroke="#1FB4F0" stroke-width="1.25" fill="none"/>
<path d="M214.2 472L222.2 480M222.2 472L214.2 480" stroke="#1FB4F0" stroke-width="1.25" fill="none"/>
<path d="M241.5 473.8L249.5 481.8M249.5 473.8L241.5 481.8" stroke="#1FB4F0" stroke-width="1.25" fill="none"/>
<path d="M265.4 474.3L273.4 482.3M273.4 474.3L265.4 482.3" stroke="#1FB4F0" stroke-width="1.25" fill="none"/>
<path d="M161.9 456.7L169.9 464.7M169.9 456.7L161.9 464.7" stroke="#000000" stroke-width="1.25" fill="none"/>
<path d="M175.3 460.5L183.3 468.5M183.3 460.5L175.3 468.5" stroke="#000000" stroke-width="1.25" fill="none"/>
<path d="M188 463.1L196 471.1M196 463.1L188 471.1" stroke="#000000" stroke-width="1.25" fill="none"/>
<path d="M199.5 465L207.5 473M207.5 465L199.5 473" stroke="#000000" stroke-width="1.25" fill="none"/>
<path d="M214 468L222 476M222 468L214 476" stroke="#000000" stroke-width="1.25" fill="none"/>
<path d="M241 469L249 477M249 469L241 477" stroke="#000000" stroke-width="1.25" fill="none"/>
<path d="M264.5 469.6L272.5 477.6M272.5 469.6L264.5 477.6" stroke="#000000" stroke-width="1.25" fill="none"/>
<path d="M161.4 425.6L169.2 433.4M169.2 425.6L161.4 433.4M165.3 425.3L165.3 433.7" stroke="#C0C0C0" stroke-width="1.3" fill="none"/>
<path d="M174.7 434.9L182.5 442.7M182.5 434.9L174.7 442.7M178.6 434.6L178.6 443" stroke="#C0C0C0" stroke-width="1.3" fill="none"/>
<path d="M188.7 440.9L196.5 448.7M196.5 440.9L188.7 448.7M192.6 440.6L192.6 449" stroke="#C0C0C0" stroke-width="1.3" fill="none"/>
<path d="M202.7 444.7L210.5 452.5M210.5 444.7L202.7 452.5M206.6 444.4L206.6 452.8" stroke="#C0C0C0" stroke-width="1.3" fill="none"/>
<path d="M214.8 448.2L222.6 456M222.6 448.2L214.8 456M218.7 447.9L218.7 456.3" stroke="#C0C0C0" stroke-width="1.3" fill="none"/>
<path d="M240.5 453.4L248.3 461.2M248.3 453.4L240.5 461.2M244.4 453.1L244.4 461.5" stroke="#C0C0C0" stroke-width="1.3" fill="none"/>
<path d="M264.9 455.9L272.7 463.7M272.7 455.9L264.9 463.7M268.8 455.6L268.8 464" stroke="#C0C0C0" stroke-width="1.3" fill="none"/>
<path d="M174.3 401.1L182.1 408.9M182.1 401.1L174.3 408.9M178.2 400.8L178.2 409.2" stroke="#7E2FB8" stroke-width="1.3" fill="none"/>
<path d="M188 411.9L195.8 419.7M195.8 411.9L188 419.7M191.9 411.6L191.9 420" stroke="#7E2FB8" stroke-width="1.3" fill="none"/>
<path d="M201 419.6L208.8 427.4M208.8 419.6L201 427.4M204.9 419.3L204.9 427.7" stroke="#7E2FB8" stroke-width="1.3" fill="none"/>
<path d="M214.1 425.3L221.9 433.1M221.9 425.3L214.1 433.1M218 425L218 433.4" stroke="#7E2FB8" stroke-width="1.3" fill="none"/>
<path d="M238.4 433.2L246.2 441M246.2 433.2L238.4 441M242.3 432.9L242.3 441.3" stroke="#7E2FB8" stroke-width="1.3" fill="none"/>
<path d="M263.5 439L271.3 446.8M271.3 439L263.5 446.8M267.4 438.7L267.4 447.1" stroke="#7E2FB8" stroke-width="1.3" fill="none"/>
<path d="M62.55 485.5V482.9" stroke="#4a4a4a" stroke-width="1"/>
<path d="M73.8 485.5V482.9" stroke="#4a4a4a" stroke-width="1"/>
<path d="M85.04 485.5V482.9" stroke="#4a4a4a" stroke-width="1"/>
<path d="M96.29 485.5V482.9" stroke="#4a4a4a" stroke-width="1"/>
<path d="M107.54 485.5V482.9" stroke="#4a4a4a" stroke-width="1"/>
<path d="M118.79 485.5V482.9" stroke="#4a4a4a" stroke-width="1"/>
<path d="M130.04 485.5V482.9" stroke="#4a4a4a" stroke-width="1"/>
<path d="M141.28 485.5V482.9" stroke="#4a4a4a" stroke-width="1"/>
<path d="M152.53 485.5V482.9" stroke="#4a4a4a" stroke-width="1"/>
<path d="M163.78 485.5V482.9" stroke="#4a4a4a" stroke-width="1"/>
<path d="M175.03 485.5V482.9" stroke="#4a4a4a" stroke-width="1"/>
<path d="M186.28 485.5V482.9" stroke="#4a4a4a" stroke-width="1"/>
<path d="M197.52 485.5V482.9" stroke="#4a4a4a" stroke-width="1"/>
<path d="M208.77 485.5V482.9" stroke="#4a4a4a" stroke-width="1"/>
<path d="M220.02 485.5V482.9" stroke="#4a4a4a" stroke-width="1"/>
<path d="M231.27 485.5V482.9" stroke="#4a4a4a" stroke-width="1"/>
<path d="M242.52 485.5V482.9" stroke="#4a4a4a" stroke-width="1"/>
<path d="M253.76 485.5V482.9" stroke="#4a4a4a" stroke-width="1"/>
<path d="M265.01 485.5V482.9" stroke="#4a4a4a" stroke-width="1"/>
<path d="M276.26 485.5V482.9" stroke="#4a4a4a" stroke-width="1"/>
<path d="M287.51 485.5V482.9" stroke="#4a4a4a" stroke-width="1"/>
<path d="M298.76 485.5V482.9" stroke="#4a4a4a" stroke-width="1"/>
<path d="M310 485.5V482.9" stroke="#4a4a4a" stroke-width="1"/>
<path d="M321.25 485.5V482.9" stroke="#4a4a4a" stroke-width="1"/>
<path d="M51.3 471.55H53.9" stroke="#4a4a4a" stroke-width="1"/>
<path d="M51.3 457.61H53.9" stroke="#4a4a4a" stroke-width="1"/>
<path d="M51.3 443.66H53.9" stroke="#4a4a4a" stroke-width="1"/>
<path d="M51.3 429.71H53.9" stroke="#4a4a4a" stroke-width="1"/>
<path d="M51.3 415.77H53.9" stroke="#4a4a4a" stroke-width="1"/>
<path d="M51.3 401.82H53.9" stroke="#4a4a4a" stroke-width="1"/>
<path d="M51.3 387.87H53.9" stroke="#4a4a4a" stroke-width="1"/>
<path d="M51.3 373.93H53.9" stroke="#4a4a4a" stroke-width="1"/>
<path d="M51.3 359.98H53.9" stroke="#4a4a4a" stroke-width="1"/>
<path d="M51.3 346.03H53.9" stroke="#4a4a4a" stroke-width="1"/>
<path d="M51.3 332.09H53.9" stroke="#4a4a4a" stroke-width="1"/>
<path d="M51.3 318.14H53.9" stroke="#4a4a4a" stroke-width="1"/>
<path d="M51.3 304.19H53.9" stroke="#4a4a4a" stroke-width="1"/>
<path d="M51.3 290.25H53.9" stroke="#4a4a4a" stroke-width="1"/>
<rect x="51.3" y="276.3" width="281.2" height="209.2" fill="none" stroke="#4a4a4a" stroke-width="1.2"/>
<text transform="translate(41.8 490.2) scale(1 1.06)" text-anchor="end" class="t">0</text>
<text transform="translate(41.8 420.47) scale(1 1.06)" text-anchor="end" class="t">0.05</text>
<text transform="translate(41.8 350.73) scale(1 1.06)" text-anchor="end" class="t">0.1</text>
<text transform="translate(41.8 281) scale(1 1.06)" text-anchor="end" class="t">0.15</text>
<text transform="translate(51.3 502.9) scale(1 1.06)" text-anchor="middle" class="t">0</text>
<text transform="translate(107.54 502.9) scale(1 1.06)" text-anchor="middle" class="t">10</text>
<text transform="translate(163.78 502.9) scale(1 1.06)" text-anchor="middle" class="t">20</text>
<text transform="translate(220.02 502.9) scale(1 1.06)" text-anchor="middle" class="t">30</text>
<text transform="translate(276.26 502.9) scale(1 1.06)" text-anchor="middle" class="t">40</text>
<text transform="translate(332.5 502.9) scale(1 1.06)" text-anchor="middle" class="t">50</text>
<text x="280.4" y="294.7" class="ti" style="font-size:13.35px"><tspan font-style="italic">&#952;</tspan> = 10&#176;</text>
<text transform="translate(17 371.4) rotate(-90)" text-anchor="middle" class="at">H<tspan class="sub" dy="2.5">L</tspan><tspan dy="-2.5"> (-)</tspan></text>
<text x="167.7" y="521.2" class="at">v<tspan class="sub" dy="2.5">SG</tspan><tspan dy="-2.5"> (m/s)</tspan></text>
<circle cx="342.6" cy="285.5" r="2.95" fill="#FF0000" stroke="#1a1a1a" stroke-width="0.9"/>
<text transform="translate(348.2 289.8) scale(1 1.12)" class="lg">vsl = 0.001m/s; Fan (2017)</text>
<circle cx="342.6" cy="300.04" r="2.95" fill="#00B050" stroke="#1a1a1a" stroke-width="0.9"/>
<text transform="translate(348.2 304.34) scale(1 1.12)" class="lg">vsl = 0.005m/s; Fan (2017)</text>
<path d="M342.6 311.18L346 314.58L342.6 317.98L339.2 314.58Z" fill="#FFC000" stroke="#1a1a1a" stroke-width="0.9"/>
<text transform="translate(348.2 318.88) scale(1 1.12)" class="lg">vsl = 0.01m/s; Fan (2017)</text>
<path d="M342.6 325.72L346 329.12L342.6 332.52L339.2 329.12Z" fill="#00B0F0" stroke="#2a8a4a" stroke-width="0.9"/>
<text transform="translate(348.2 333.42) scale(1 1.12)" class="lg">vsl = 0.01m/s; Alsaadi et al. (2015)</text>
<path d="M342.6 340.26L346 343.66L342.6 347.06L339.2 343.66Z" fill="#000000" stroke="#000" stroke-width="0.9"/>
<text transform="translate(348.2 347.96) scale(1 1.12)" class="lg">vsl = 0.02m/s; Alsaadi et al. (2015)</text>
<circle cx="342.6" cy="358.2" r="2.95" fill="#BFBFBF" stroke="#222" stroke-width="1.1"/>
<text transform="translate(348.2 362.5) scale(1 1.12)" class="lg">vsl = 0.05m/s; Alsaadi et al. (2015)</text>
<circle cx="342.6" cy="372.74" r="2.95" fill="#7030A0" stroke="#1a1a1a" stroke-width="0.9"/>
<text transform="translate(348.2 377.04) scale(1 1.12)" class="lg">vsl = 0.1m/s; Alsaadi et al. (2015)</text>
<path d="M339.2 383.88L346 390.68M346 383.88L339.2 390.68" stroke="#FF0000" stroke-width="1.3" fill="none"/>
<text transform="translate(348.2 391.58) scale(1 1.12)" class="lg">vsl = 0.001m/s; Fan (2017) (model)</text>
<path d="M339.3 398.52L345.9 405.12M345.9 398.52L339.3 405.12M342.6 398.22L342.6 405.42" stroke="#0BAA4C" stroke-width="1.3" fill="none"/>
<text transform="translate(348.2 406.12) scale(1 1.12)" class="lg">vsl = 0.005m/s; Fan (2017) (model)</text>
<path d="M339.2 412.96L346 419.76M346 412.96L339.2 419.76" stroke="#F7731F" stroke-width="1.3" fill="none"/>
<text transform="translate(348.2 420.66) scale(1 1.12)" class="lg">vsl = 0.01m/s; Fan (2017) (model)</text>
<path d="M339.2 427.5L346 434.3M346 427.5L339.2 434.3" stroke="#1FB4F0" stroke-width="1.3" fill="none"/>
<text transform="translate(348.2 435.2) scale(1 1.12)" class="lg">vsl = 0.01m/s; Alsaadi et al. (2015) (model)</text>
<path d="M339.2 442.04L346 448.84M346 442.04L339.2 448.84" stroke="#000" stroke-width="1.3" fill="none"/>
<text transform="translate(348.2 449.74) scale(1 1.12)" class="lg">vsl = 0.02m/s; Alsaadi et al. (2015) (model)</text>
<path d="M339.3 456.68L345.9 463.28M345.9 456.68L339.3 463.28M342.6 456.38L342.6 463.58" stroke="#C0C0C0" stroke-width="1.3" fill="none"/>
<text transform="translate(348.2 464.28) scale(1 1.12)" class="lg">vsl = 0.05m/s; Alsaadi et al. (2015) (model)</text>
<path d="M339.3 471.22L345.9 477.82M345.9 471.22L339.3 477.82M342.6 470.92L342.6 478.12" stroke="#7E2FB8" stroke-width="1.3" fill="none"/>
<text transform="translate(348.2 478.82) scale(1 1.12)" class="lg">vsl = 0.1m/s; Alsaadi et al. (2015) (model)</text>
<circle cx="163.5" cy="739.5" r="2.95" fill="#FF0000" stroke="#1a1a1a" stroke-width="0.9"/>
<circle cx="192" cy="742.5" r="2.95" fill="#FF0000" stroke="#1a1a1a" stroke-width="0.9"/>
<circle cx="221.5" cy="744.5" r="2.95" fill="#FF0000" stroke="#1a1a1a" stroke-width="0.9"/>
<circle cx="252.5" cy="745.5" r="2.95" fill="#FF0000" stroke="#1a1a1a" stroke-width="0.9"/>
<circle cx="280" cy="747.3" r="2.95" fill="#FF0000" stroke="#1a1a1a" stroke-width="0.9"/>
<circle cx="121.5" cy="710.4" r="2.95" fill="#00B050" stroke="#1a1a1a" stroke-width="0.9"/>
<circle cx="132.3" cy="721.2" r="2.95" fill="#00B050" stroke="#1a1a1a" stroke-width="0.9"/>
<circle cx="144.1" cy="730.5" r="2.95" fill="#00B050" stroke="#1a1a1a" stroke-width="0.9"/>
<circle cx="163.2" cy="735.8" r="2.95" fill="#00B050" stroke="#1a1a1a" stroke-width="0.9"/>
<circle cx="192.5" cy="738.5" r="2.95" fill="#00B050" stroke="#1a1a1a" stroke-width="0.9"/>
<circle cx="222.5" cy="741.5" r="2.95" fill="#00B050" stroke="#1a1a1a" stroke-width="0.9"/>
<circle cx="253" cy="742.5" r="2.95" fill="#00B050" stroke="#1a1a1a" stroke-width="0.9"/>
<circle cx="281.5" cy="744" r="2.95" fill="#00B050" stroke="#1a1a1a" stroke-width="0.9"/>
<path d="M161.6 724.2L165 727.6L161.6 731L158.2 727.6Z" fill="#FFC000" stroke="#1a1a1a" stroke-width="0.9"/>
<path d="M191.5 730.6L194.9 734L191.5 737.4L188.1 734Z" fill="#FFC000" stroke="#1a1a1a" stroke-width="0.9"/>
<path d="M222 734.6L225.4 738L222 741.4L218.6 738Z" fill="#FFC000" stroke="#1a1a1a" stroke-width="0.9"/>
<path d="M252.5 737.1L255.9 740.5L252.5 743.9L249.1 740.5Z" fill="#FFC000" stroke="#1a1a1a" stroke-width="0.9"/>
<path d="M282 738.6L285.4 742L282 745.4L278.6 742Z" fill="#FFC000" stroke="#1a1a1a" stroke-width="0.9"/>
<path d="M164.4 721.7L167.8 725.1L164.4 728.5L161 725.1Z" fill="#00B0F0" stroke="#2a8a4a" stroke-width="0.9"/>
<path d="M193.1 727.1L196.5 730.5L193.1 733.9L189.7 730.5Z" fill="#00B0F0" stroke="#2a8a4a" stroke-width="0.9"/>
<path d="M223.5 730.6L226.9 734L223.5 737.4L220.1 734Z" fill="#00B0F0" stroke="#2a8a4a" stroke-width="0.9"/>
<path d="M252.8 734.1L256.2 737.5L252.8 740.9L249.4 737.5Z" fill="#00B0F0" stroke="#2a8a4a" stroke-width="0.9"/>
<path d="M281.5 736.1L284.9 739.5L281.5 742.9L278.1 739.5Z" fill="#00B0F0" stroke="#2a8a4a" stroke-width="0.9"/>
<path d="M119 667.1L122.4 670.5L119 673.9L115.6 670.5Z" fill="#000000" stroke="#000" stroke-width="0.9"/>
<path d="M131.1 694.5L134.5 697.9L131.1 701.3L127.7 697.9Z" fill="#000000" stroke="#000" stroke-width="0.9"/>
<path d="M148 701.9L151.4 705.3L148 708.7L144.6 705.3Z" fill="#000000" stroke="#000" stroke-width="0.9"/>
<path d="M162 710.1L165.4 713.5L162 716.9L158.6 713.5Z" fill="#000000" stroke="#000" stroke-width="0.9"/>
<circle cx="166" cy="716.3" r="2.95" fill="#BFBFBF" stroke="#222" stroke-width="1.1"/>
<circle cx="187.3" cy="725.5" r="2.95" fill="#BFBFBF" stroke="#222" stroke-width="1.1"/>
<circle cx="223.6" cy="728.4" r="2.95" fill="#BFBFBF" stroke="#222" stroke-width="1.1"/>
<circle cx="252.2" cy="732.7" r="2.95" fill="#BFBFBF" stroke="#222" stroke-width="1.1"/>
<circle cx="274.9" cy="737.1" r="2.95" fill="#BFBFBF" stroke="#222" stroke-width="1.1"/>
<circle cx="127.5" cy="650" r="2.95" fill="#7030A0" stroke="#1a1a1a" stroke-width="0.9"/>
<circle cx="142.3" cy="661.5" r="2.95" fill="#7030A0" stroke="#1a1a1a" stroke-width="0.9"/>
<circle cx="155.8" cy="686.3" r="2.95" fill="#7030A0" stroke="#1a1a1a" stroke-width="0.9"/>
<path d="M159.5 737.7L167.5 745.7M167.5 737.7L159.5 745.7" stroke="#FF0000" stroke-width="1.25" fill="none"/>
<path d="M187.6 739.6L195.6 747.6M195.6 739.6L187.6 747.6" stroke="#FF0000" stroke-width="1.25" fill="none"/>
<path d="M217.5 741.1L225.5 749.1M225.5 741.1L217.5 749.1" stroke="#FF0000" stroke-width="1.25" fill="none"/>
<path d="M248.9 742.5L256.9 750.5M256.9 742.5L248.9 750.5" stroke="#FF0000" stroke-width="1.25" fill="none"/>
<path d="M277.5 744L285.5 752M285.5 744L277.5 752" stroke="#FF0000" stroke-width="1.25" fill="none"/>
<path d="M117.6 705.2L125.4 713M125.4 705.2L117.6 713M121.5 704.9L121.5 713.3" stroke="#0BAA4C" stroke-width="1.3" fill="none"/>
<path d="M129 713.5L136.8 721.3M136.8 713.5L129 721.3M132.9 713.2L132.9 721.6" stroke="#0BAA4C" stroke-width="1.3" fill="none"/>
<path d="M140.5 720.5L148.3 728.3M148.3 720.5L140.5 728.3M144.4 720.2L144.4 728.6" stroke="#0BAA4C" stroke-width="1.3" fill="none"/>
<path d="M157 724.3L164.8 732.1M164.8 724.3L157 732.1M160.9 724L160.9 732.4" stroke="#0BAA4C" stroke-width="1.3" fill="none"/>
<path d="M189.1 729.1L196.9 736.9M196.9 729.1L189.1 736.9M193 728.8L193 737.2" stroke="#0BAA4C" stroke-width="1.3" fill="none"/>
<path d="M218.6 733.1L226.4 740.9M226.4 733.1L218.6 740.9M222.5 732.8L222.5 741.2" stroke="#0BAA4C" stroke-width="1.3" fill="none"/>
<path d="M249.1 735.6L256.9 743.4M256.9 735.6L249.1 743.4M253 735.3L253 743.7" stroke="#0BAA4C" stroke-width="1.3" fill="none"/>
<path d="M278.3 734.6L286.1 742.4M286.1 734.6L278.3 742.4M282.2 734.3L282.2 742.7" stroke="#0BAA4C" stroke-width="1.3" fill="none"/>
<path d="M159.5 729.9L167.5 737.9M167.5 729.9L159.5 737.9" stroke="#F7731F" stroke-width="1.25" fill="none"/>
<path d="M188.4 733.1L196.4 741.1M196.4 733.1L188.4 741.1" stroke="#F7731F" stroke-width="1.25" fill="none"/>
<path d="M218.9 738.2L226.9 746.2M226.9 738.2L218.9 746.2" stroke="#F7731F" stroke-width="1.25" fill="none"/>
<path d="M249.3 739.6L257.3 747.6M257.3 739.6L249.3 747.6" stroke="#F7731F" stroke-width="1.25" fill="none"/>
<path d="M279.6 739.6L287.6 747.6M287.6 739.6L279.6 747.6" stroke="#F7731F" stroke-width="1.25" fill="none"/>
<path d="M161.4 723L169.4 731M169.4 723L161.4 731" stroke="#1FB4F0" stroke-width="1.25" fill="none"/>
<path d="M190.5 727.3L198.5 735.3M198.5 727.3L190.5 735.3" stroke="#1FB4F0" stroke-width="1.25" fill="none"/>
<path d="M219.6 731.6L227.6 739.6M227.6 731.6L219.6 739.6" stroke="#1FB4F0" stroke-width="1.25" fill="none"/>
<path d="M248.8 736.3L256.8 744.3M256.8 736.3L248.8 744.3" stroke="#1FB4F0" stroke-width="1.25" fill="none"/>
<path d="M277.5 736.7L285.5 744.7M285.5 736.7L277.5 744.7" stroke="#1FB4F0" stroke-width="1.25" fill="none"/>
<path d="M115.5 602.5L123.5 610.5M123.5 602.5L115.5 610.5" stroke="#000000" stroke-width="1.25" fill="none"/>
<path d="M127.1 675.6L135.1 683.6M135.1 675.6L127.1 683.6" stroke="#000000" stroke-width="1.25" fill="none"/>
<path d="M143.5 696L151.5 704M151.5 696L143.5 704" stroke="#000000" stroke-width="1.25" fill="none"/>
<path d="M157.6 704L165.6 712M165.6 704L157.6 712" stroke="#000000" stroke-width="1.25" fill="none"/>
<path d="M161.8 716.8L169.6 724.6M169.6 716.8L161.8 724.6M165.7 716.5L165.7 724.9" stroke="#C0C0C0" stroke-width="1.3" fill="none"/>
<path d="M189.1 724.1L196.9 731.9M196.9 724.1L189.1 731.9M193 723.8L193 732.2" stroke="#C0C0C0" stroke-width="1.3" fill="none"/>
<path d="M219.6 728.1L227.4 735.9M227.4 728.1L219.6 735.9M223.5 727.8L223.5 736.2" stroke="#C0C0C0" stroke-width="1.3" fill="none"/>
<path d="M248.6 732.1L256.4 739.9M256.4 732.1L248.6 739.9M252.5 731.8L252.5 740.2" stroke="#C0C0C0" stroke-width="1.3" fill="none"/>
<path d="M277.1 735.1L284.9 742.9M284.9 735.1L277.1 742.9M281 734.8L281 743.2" stroke="#C0C0C0" stroke-width="1.3" fill="none"/>
<path d="M124.3 592.4L132.1 600.2M132.1 592.4L124.3 600.2M128.2 592.1L128.2 600.5" stroke="#7E2FB8" stroke-width="1.3" fill="none"/>
<path d="M138.4 642L146.2 649.8M146.2 642L138.4 649.8M142.3 641.7L142.3 650.1" stroke="#7E2FB8" stroke-width="1.3" fill="none"/>
<path d="M151.9 663.7L159.7 671.5M159.7 663.7L151.9 671.5M155.8 663.4L155.8 671.8" stroke="#7E2FB8" stroke-width="1.3" fill="none"/>
<path d="M63.66 751.8V749.2" stroke="#4a4a4a" stroke-width="1"/>
<path d="M74.91 751.8V749.2" stroke="#4a4a4a" stroke-width="1"/>
<path d="M86.17 751.8V749.2" stroke="#4a4a4a" stroke-width="1"/>
<path d="M97.42 751.8V749.2" stroke="#4a4a4a" stroke-width="1"/>
<path d="M108.68 751.8V749.2" stroke="#4a4a4a" stroke-width="1"/>
<path d="M119.94 751.8V749.2" stroke="#4a4a4a" stroke-width="1"/>
<path d="M131.19 751.8V749.2" stroke="#4a4a4a" stroke-width="1"/>
<path d="M142.45 751.8V749.2" stroke="#4a4a4a" stroke-width="1"/>
<path d="M153.7 751.8V749.2" stroke="#4a4a4a" stroke-width="1"/>
<path d="M164.96 751.8V749.2" stroke="#4a4a4a" stroke-width="1"/>
<path d="M176.22 751.8V749.2" stroke="#4a4a4a" stroke-width="1"/>
<path d="M187.47 751.8V749.2" stroke="#4a4a4a" stroke-width="1"/>
<path d="M198.73 751.8V749.2" stroke="#4a4a4a" stroke-width="1"/>
<path d="M209.98 751.8V749.2" stroke="#4a4a4a" stroke-width="1"/>
<path d="M221.24 751.8V749.2" stroke="#4a4a4a" stroke-width="1"/>
<path d="M232.5 751.8V749.2" stroke="#4a4a4a" stroke-width="1"/>
<path d="M243.75 751.8V749.2" stroke="#4a4a4a" stroke-width="1"/>
<path d="M255.01 751.8V749.2" stroke="#4a4a4a" stroke-width="1"/>
<path d="M266.26 751.8V749.2" stroke="#4a4a4a" stroke-width="1"/>
<path d="M277.52 751.8V749.2" stroke="#4a4a4a" stroke-width="1"/>
<path d="M288.78 751.8V749.2" stroke="#4a4a4a" stroke-width="1"/>
<path d="M300.03 751.8V749.2" stroke="#4a4a4a" stroke-width="1"/>
<path d="M311.29 751.8V749.2" stroke="#4a4a4a" stroke-width="1"/>
<path d="M322.54 751.8V749.2" stroke="#4a4a4a" stroke-width="1"/>
<path d="M52.4 730.95H55" stroke="#4a4a4a" stroke-width="1"/>
<path d="M52.4 710.1H55" stroke="#4a4a4a" stroke-width="1"/>
<path d="M52.4 689.25H55" stroke="#4a4a4a" stroke-width="1"/>
<path d="M52.4 668.4H55" stroke="#4a4a4a" stroke-width="1"/>
<path d="M52.4 647.55H55" stroke="#4a4a4a" stroke-width="1"/>
<path d="M52.4 626.7H55" stroke="#4a4a4a" stroke-width="1"/>
<path d="M52.4 605.85H55" stroke="#4a4a4a" stroke-width="1"/>
<path d="M52.4 585H55" stroke="#4a4a4a" stroke-width="1"/>
<path d="M52.4 564.15H55" stroke="#4a4a4a" stroke-width="1"/>
<rect x="52.4" y="543.3" width="281.4" height="208.5" fill="none" stroke="#4a4a4a" stroke-width="1.2"/>
<text transform="translate(42.9 756.5) scale(1 1.06)" text-anchor="end" class="t">0</text>
<text transform="translate(42.9 652.25) scale(1 1.06)" text-anchor="end" class="t">0.05</text>
<text transform="translate(42.9 548) scale(1 1.06)" text-anchor="end" class="t">0.1</text>
<text transform="translate(52.4 769.2) scale(1 1.06)" text-anchor="middle" class="t">0</text>
<text transform="translate(108.68 769.2) scale(1 1.06)" text-anchor="middle" class="t">20</text>
<text transform="translate(164.96 769.2) scale(1 1.06)" text-anchor="middle" class="t">40</text>
<text transform="translate(221.24 769.2) scale(1 1.06)" text-anchor="middle" class="t">60</text>
<text transform="translate(277.52 769.2) scale(1 1.06)" text-anchor="middle" class="t">80</text>
<text transform="translate(333.8 769.2) scale(1 1.06)" text-anchor="middle" class="t">100</text>
<text x="282.5" y="561.5" class="ti"><tspan font-style="italic">&#952;</tspan> = 75&#176;</text>
<text transform="translate(17.9 639.4) rotate(-90)" text-anchor="middle" class="at">H<tspan class="sub" dy="2.5">L</tspan><tspan dy="-2.5"> (-)</tspan></text>
<text x="168.5" y="787.8" class="at">v<tspan class="sub" dy="2.5">SG</tspan><tspan dy="-2.5"> (m/s)</tspan></text>
<circle cx="346.6" cy="552" r="2.95" fill="#FF0000" stroke="#1a1a1a" stroke-width="0.9"/>
<text transform="translate(352.2 556.4) scale(1 1.12)" class="lg">vsl = 0.0035m/s; Magrini (2009)</text>
<circle cx="346.6" cy="566.65" r="2.95" fill="#00B050" stroke="#1a1a1a" stroke-width="0.9"/>
<text transform="translate(352.2 571.05) scale(1 1.12)" class="lg">vsl = 0.01m/s; Guner et al. (2015)</text>
<path d="M346.6 577.9L350 581.3L346.6 584.7L343.2 581.3Z" fill="#FFC000" stroke="#1a1a1a" stroke-width="0.9"/>
<text transform="translate(352.2 585.7) scale(1 1.12)" class="lg">vsl = 0.01m/s; Magrini (2009)</text>
<path d="M346.6 592.55L350 595.95L346.6 599.35L343.2 595.95Z" fill="#00B0F0" stroke="#2a8a4a" stroke-width="0.9"/>
<text transform="translate(352.2 600.35) scale(1 1.12)" class="lg">vsl = 0.02m/s; Magrini (2009)</text>
<path d="M346.6 607.2L350 610.6L346.6 614L343.2 610.6Z" fill="#000000" stroke="#000" stroke-width="0.9"/>
<text transform="translate(352.2 615) scale(1 1.12)" class="lg">vsl = 0.05m/s; Guner et al. (2015)</text>
<circle cx="346.6" cy="625.25" r="2.95" fill="#BFBFBF" stroke="#222" stroke-width="1.1"/>
<text transform="translate(352.2 629.65) scale(1 1.12)" class="lg">vsl = 0.04m/s; Magrini (2009)</text>
<circle cx="346.6" cy="639.9" r="2.95" fill="#7030A0" stroke="#1a1a1a" stroke-width="0.9"/>
<text transform="translate(352.2 644.3) scale(1 1.12)" class="lg">vsl = 0.1m/s; Guner et al. (2015)</text>
<path d="M343.2 651.15L350 657.95M350 651.15L343.2 657.95" stroke="#FF0000" stroke-width="1.3" fill="none"/>
<text transform="translate(352.2 658.95) scale(1 1.12)" class="lg">vsl = 0.0035m/s; Magrini (2009) (model)</text>
<path d="M343.3 665.9L349.9 672.5M349.9 665.9L343.3 672.5M346.6 665.6L346.6 672.8" stroke="#0BAA4C" stroke-width="1.3" fill="none"/>
<text transform="translate(352.2 673.6) scale(1 1.12)" class="lg">vsl = 0.01m/s; Guner et al. (2015) (model)</text>
<path d="M343.2 680.45L350 687.25M350 680.45L343.2 687.25" stroke="#F7731F" stroke-width="1.3" fill="none"/>
<text transform="translate(352.2 688.25) scale(1 1.12)" class="lg">vsl = 0.01m/s; Magrini (2009) (model)</text>
<path d="M343.2 695.1L350 701.9M350 695.1L343.2 701.9" stroke="#1FB4F0" stroke-width="1.3" fill="none"/>
<text transform="translate(352.2 702.9) scale(1 1.12)" class="lg">vsl = 0.02m/s; Magrini (2009) (model)</text>
<path d="M343.2 709.75L350 716.55M350 709.75L343.2 716.55" stroke="#000" stroke-width="1.3" fill="none"/>
<text transform="translate(352.2 717.55) scale(1 1.12)" class="lg">vsl = 0.05m/s; Guner et al. (2015) (model)</text>
<path d="M343.3 724.5L349.9 731.1M349.9 724.5L343.3 731.1M346.6 724.2L346.6 731.4" stroke="#C0C0C0" stroke-width="1.3" fill="none"/>
<text transform="translate(352.2 732.2) scale(1 1.12)" class="lg">vsl = 0.04m/s; Magrini (2009) (model)</text>
<path d="M343.3 739.15L349.9 745.75M349.9 739.15L343.3 745.75M346.6 738.85L346.6 746.05" stroke="#7E2FB8" stroke-width="1.3" fill="none"/>
<text transform="translate(352.2 746.85) scale(1 1.12)" class="lg">vsl = 0.1m/s; Guner et al. (2015) (model)</text>
</svg>
</body></html>
